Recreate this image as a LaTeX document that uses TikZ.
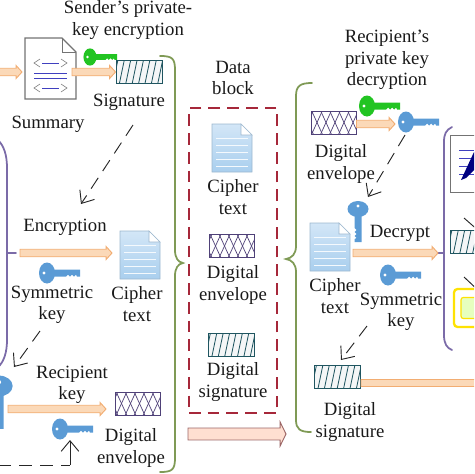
\documentclass[tikz,border=0pt]{standalone}
\usepackage{fontspec}
\setmainfont{Liberation Serif}
\usepackage{xcolor}
\usepackage{tikz}
\usetikzlibrary{arrows.meta,positioning,calc}

\definecolor{barfill}{HTML}{FBD9B8}
\definecolor{barline}{HTML}{F2AD72}
\definecolor{bracegreen}{HTML}{7F9A55}
\definecolor{bracepurple}{HTML}{7B6BA8}
\definecolor{keyblue}{HTML}{5B9BD5}
\definecolor{keygreen}{HTML}{22C422}
\definecolor{hatchteal}{HTML}{1F5560}
\definecolor{hatchpurple}{HTML}{4F4178}
\definecolor{blockred}{HTML}{A6283A}
\definecolor{doctop}{HTML}{D3E6F7}
\definecolor{docbottom}{HTML}{A9CFEE}
\definecolor{docline}{HTML}{9DB8CF}

\tikzset{
  label/.style={font=\fontsize{16}{18.3}\selectfont, align=center, text=black!90, inner sep=0pt},
  sigbox/.style={rectangle, draw=hatchteal, line width=0.8pt, fill=hatchteal!5, minimum width=1.38cm, minimum height=0.69cm, inner sep=0pt,
    path picture={
      \foreach \i in {-26,-19.6,...,24} \draw[hatchteal, line width=0.7pt] (\i,12) -- (\i+5,-12);
    }},
  envbox/.style={rectangle, draw=hatchpurple, line width=0.8pt, fill=white, minimum width=1.35cm, minimum height=0.69cm, inner sep=0pt,
    path picture={
      \foreach \i in {-31,-22,...,23} {
        \draw[hatchpurple, line width=0.6pt] (\i,-12) -- (\i+11,12);
        \draw[hatchpurple, line width=0.6pt] (\i+11,-12) -- (\i,12);
      }
    }},
  pics/cipherdoc/.style={code={
    \shade[top color=doctop, bottom color=docbottom, draw=docline, line width=0.6pt] (0,0) -- (29,0) -- (40,11) -- (40,48) -- (0,48) -- cycle;
    \foreach \i in {14,21,...,42} \draw[white!75!doctop, line width=0.6pt] (4,\i) -- (36,\i);
    \fill[white, draw=docline, line width=0.5pt] (29,0) -- (29,11) -- (40,11) -- cycle;
  }},
  pics/sumdoc/.style={code={
    \draw[black!55, line width=1pt, fill=white] (0,0) -- (37,0) -- (51,14) -- (51,61) -- (0,61) -- cycle;
    \draw[black!55, line width=0.8pt] (37,0) -- (37,14) -- (51,14);
    \draw[blue!50!gray, line width=0.7pt] (17,25) -- (34,25) (9,35) -- (42,35) (9,40) -- (42,40) (17,50) -- (34,50);
    \draw[black!50, line width=0.5pt] (15,21) -- (9,25) -- (15,29) (36,21) -- (42,25) -- (36,29);
    \draw[black!50, line width=0.5pt] (15,46) -- (9,50) -- (15,54) (36,46) -- (42,50) -- (36,54);
  }},
  barflow/.style n args={2}{draw=barline, fill=barfill, line width=0.8pt,
    to path={let \p1=(\tikztostart), \p2=(\tikztotarget) in
      (\x1,\y1+#1) -- (\x2-5pt,\y1+#1) -- (\x2-5pt,\y1+#2) -- (\x2,\y1) -- (\x2-5pt,\y1-#2) -- (\x2-5pt,\y1-#1) -- (\x1,\y1-#1) -- cycle}},
  dasharrow/.style={black!85, line width=0.8pt, dash pattern=on 11pt off 7pt, -{Straight Barb[length=9pt,width=15pt,line width=0.8pt]}},
  bracepath/.style={line width=1.5pt, line cap=round},
  pics/keypic/.style={code={
    \fill[#1] (0,0) ellipse (8 and 10.5);
    \fill[#1] (6,-3.5) -- (33,-3.5) -- (33,3.5) -- (30,3.5) -- (29,1.5) -- (27,3.5) -- (25,1.5) -- (23,3.5) -- (21,1.5) -- (19,3.5) -- (6,3.5) -- cycle;
    \fill[white] (-3,0) circle (1.6);
  }},
}

\begin{document}
\begin{tikzpicture}[x=0.03cm, y=-0.03cm]

\clip (0,0) rectangle (474,474);

% sender side
\node[label] (sendtitle) at (128,20) {Sender's private-\\key encryption};
\pic at (25,38) {sumdoc};
\node[label] (sumtext) at (48,124) {Summary};
\node[sigbox] (sendsig) at (139,71.5) {};
\node[label] (sendsigtext) at (129,102) {Signature};
\pic[scale=0.82] at (90,57) {keypic=keygreen};

\node[label] (enctext) at (65,227) {Encryption};
\pic at (120,231) {cipherdoc};
\node[label] (sendciphertext) at (137,304) {Cipher\\text};
\pic at (47,273) {keypic=keyblue};
\node[label] (sendsymtext) at (52,305) {Symmetric\\key};

\node[label] (rectext) at (72,385) {Recipient\\key};
\node[envbox] (sendenv) at (138,403.5) {};
\node[label] (sendenvtext) at (131,448) {Digital\\envelope};
\pic at (60,429) {keypic=keyblue};
\pic[rotate=-90, scale=1.3] at (-1,386) {keypic=keyblue};

% data block
\node[label] (blocktext) at (233,78) {Data\\block};
\node[rectangle, draw=blockred, line width=1.1pt, dash pattern=on 10pt off 6pt, minimum width=2.64cm, minimum height=9.15cm] (block) at (233,260.5) {};
\pic at (212,124) {cipherdoc};
\node[label] (blockciphertext) at (233,197) {Cipher\\text};
\node[envbox] (blockenv) at (232,246) {};
\node[label] (blockenvtext) at (233,285) {Digital\\envelope};
\node[sigbox] (blocksig) at (231.5,344.5) {};
\node[label] (blocksigtext) at (233,382) {Digital\\signature};

% recipient side
\node[label] (rectitle) at (387,60) {Recipient's\\private key\\decryption};
\node[envbox] (recenv) at (333.5,122.5) {};
\node[label] (recenvtext) at (341,164) {Digital\\envelope};
\pic at (367,106) {keypic=keygreen};
\pic at (406,122) {keypic=keyblue};
\pic[rotate=-90] at (358,209) {keypic=keyblue};

\pic at (310,223) {cipherdoc};
\node[label] (recciphertext) at (335,296) {Cipher\\text};
\node[label] (dectext) at (400,233) {Decrypt};
\pic at (388,275) {keypic=keyblue};
\node[label] (recsymtext) at (401,312) {Symmetric\\key};
\node[sigbox] (recsig) at (337.5,377) {};
\node[label] (recsigtext) at (350,422) {Digital\\signature};

% far right
\node[rectangle, draw=black!55, line width=0.8pt, fill=white, minimum width=1.8cm, minimum height=1.71cm] (pendoc) at (480,163.5) {};
\draw[blue!50!gray, line width=0.7pt] (459,150) -- (474,150) (459,158) -- (474,158) (459,166) -- (474,166) (459,174) -- (474,174);
\fill[blue!50!black] (461,180) -- (474,152) -- (474,170) -- (466,178) -- cycle;
\node[sigbox] (outsig) at (473,241.5) {};
\node[rectangle, rounded corners=3pt, draw=yellow!85!orange, line width=2pt, fill=white, minimum width=1.8cm, minimum height=1.14cm] (seal) at (484,308) {};
\node[rectangle, rounded corners=2pt, draw=yellow!85!orange, line width=1pt, fill=green!40!yellow!25, minimum width=1.2cm, minimum height=0.63cm] (sealcore) at (481,308) {};

% braces and brackets
\draw[bracegreen, bracepath] (160,56) .. controls (172,56) and (175,58) .. (175,70) -- (175,250) .. controls (175,258) and (178,262) .. (183,263) .. controls (178,264) and (175,268) .. (175,276) -- (175,458) .. controls (175,470) and (172,472) .. (160,472);
\draw[bracegreen, bracepath] (312,83) .. controls (300,83) and (296,86) .. (296,96) -- (296,246) .. controls (296,254) and (292,258) .. (286,259) .. controls (292,260) and (296,264) .. (296,272) -- (296,420) .. controls (296,429) and (300,432) .. (311,432);
\draw[bracepurple, bracepath] (-2,140) .. controls (4,146) and (7,155) .. (7,168) -- (7,340) .. controls (7,352) and (4,362) .. (-2,367);
\draw[bracepurple, bracepath] (7,253) -- (16,253);
\draw[bracepurple, bracepath] (452,127) .. controls (446,130) and (444,134) .. (444,142) -- (444,335) .. controls (444,344) and (447,348) .. (452,350);
\draw[bracepurple, bracepath] (438,253) -- (444,253);

% free ends of connectors
\coordinate (leftin) at (-3,72);
\coordinate (sumin) at (22,72);
\coordinate (sumout) at (72,72);
\coordinate (encin) at (20,253);
\coordinate (encout) at (112,253);
\coordinate (recin) at (8,409);
\coordinate (recout) at (106,409);
\coordinate (blockin) at (188,434);
\coordinate (blockout) at (286,434);
\coordinate (envout) at (395,124);
\coordinate (decin) at (353,253);
\coordinate (decout) at (438,253);
\coordinate (sigout) at (520,383);
\coordinate (sigin) at (361,383);
\coordinate (sigdashin) at (133,125);
\coordinate (sigdashout) at (81,204);
\coordinate (symdashin) at (40,331);
\coordinate (symdashout) at (14,367);
\coordinate (keydashin) at (405,135);
\coordinate (keydashout) at (368,197);
\coordinate (recdashin) at (367,326);
\coordinate (recdashout) at (341,360);
\coordinate (footleft) at (-2,465);
\coordinate (footkey) at (70,465);
\coordinate (footup) at (70,440);
\coordinate (penlinein) at (464,218);
\coordinate (penlineout) at (480,232);
\coordinate (seallinein) at (464,277);
\coordinate (seallineout) at (480,292);

% orange arrows
\draw[barflow={3.2pt}{5.5pt}] (leftin) to (sumin);
\draw[barflow={3.2pt}{5.5pt}] (sumout) to (sendsig.west);
\draw[barflow={3.2pt}{5.5pt}] (encin) to (encout);
\draw[barflow={3.2pt}{5.5pt}] (recin) to (recout);
\draw[barflow={3.2pt}{5.5pt}] (recenv.east |- envout) to (envout);
\draw[barflow={3.2pt}{5.5pt}] (decin) to (decout);
\draw[barflow={3pt}{3pt}] (sigin) to (sigout);
\draw[barflow={5.1pt}{10.2pt}, draw=red!35!black!60, fill=red!40!orange!18] (blockin) to (blockout);

% dashed arrows
\draw[dasharrow] (sigdashin) -- (sigdashout);
\draw[dasharrow] (symdashin) -- (symdashout);
\draw[dasharrow] (keydashin) -- (keydashout);
\draw[dasharrow] (recdashin) -- (recdashout);
\draw[black!85, line width=0.8pt, dash pattern=on 11pt off 7pt] (footleft) -- (footkey);
\draw[black!85, line width=0.8pt, -{Straight Barb[length=9pt,width=15pt,line width=0.8pt]}] (footkey) -- (footup);
\draw[black!85, line width=0.8pt] (penlinein) -- (penlineout);
\draw[black!85, line width=0.8pt] (seallinein) -- (seallineout);

\end{tikzpicture}
\end{document}
